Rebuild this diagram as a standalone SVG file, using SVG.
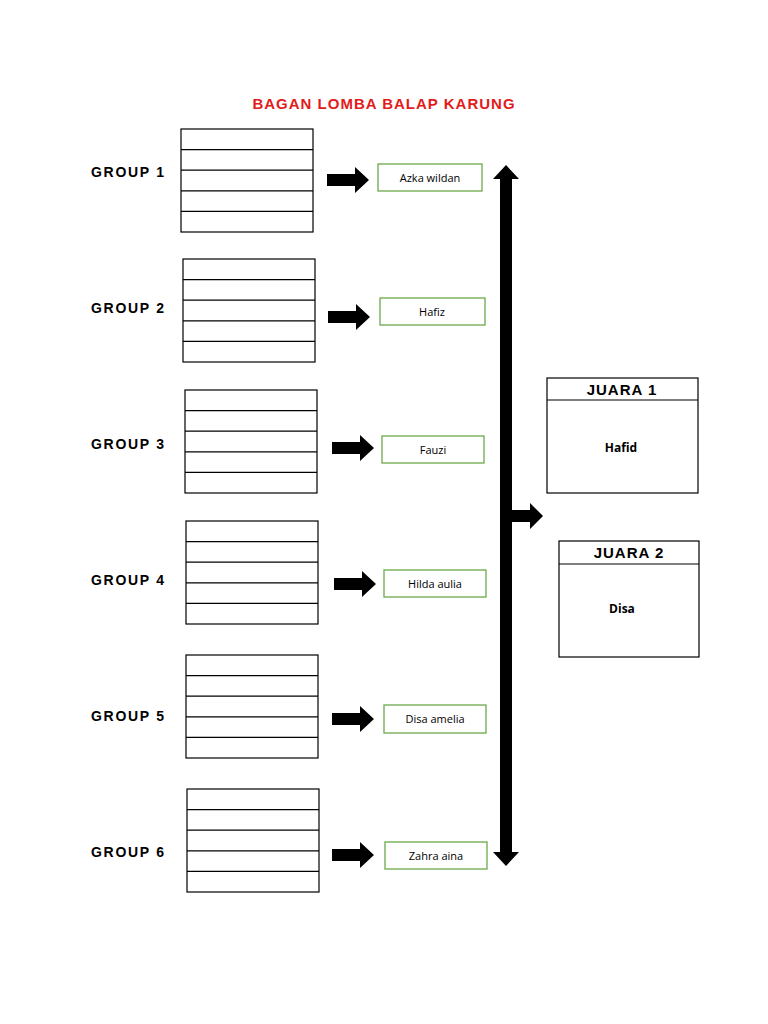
<svg xmlns="http://www.w3.org/2000/svg" width="768" height="1024" viewBox="0 0 768 1024">
<style>
.t{fill:#fff;stroke:#000;stroke-width:1.2}
.l{stroke:#000;stroke-width:1.2}
.g{font-family:"Liberation Sans",Arial,sans-serif;font-weight:bold;font-size:14px;letter-spacing:1.7px}
.n{fill:#fff;stroke:#6aaa4a;stroke-width:1.3}
.nt{font-family:"Open Sans","Liberation Sans",sans-serif;font-size:11px;text-anchor:middle}
.a{fill:#000}
.j{font-family:"Liberation Sans",Arial,sans-serif;font-weight:bold;font-size:15px;text-anchor:middle;letter-spacing:1px}
.jt{font-family:"Open Sans","Liberation Sans",sans-serif;font-weight:bold;font-size:12px;text-anchor:middle}
</style>
<defs>
<g id="tbl"><rect class="t" x="0" y="0" width="132" height="103"/><line class="l" x1="0" y1="20.6" x2="132" y2="20.6"/><line class="l" x1="0" y1="41.2" x2="132" y2="41.2"/><line class="l" x1="0" y1="61.8" x2="132" y2="61.8"/><line class="l" x1="0" y1="82.4" x2="132" y2="82.4"/></g>
<path id="arr" class="a" d="M0,-6 H28 V-13 L42,0 L28,13 V6 H0 Z"/>
</defs>
<text x="384" y="109" text-anchor="middle" font-family="Liberation Sans,Arial,sans-serif" font-weight="bold" font-size="15" fill="#e31b1b" letter-spacing="1">BAGAN LOMBA BALAP KARUNG</text>
<g id="group1"><use href="#tbl" x="181" y="129"/><text class="g" x="91" y="177">GROUP 1</text></g>
<g id="group2"><use href="#tbl" x="183" y="259"/><text class="g" x="91" y="313">GROUP 2</text></g>
<g id="group3"><use href="#tbl" x="185" y="390"/><text class="g" x="91" y="449">GROUP 3</text></g>
<g id="group4"><use href="#tbl" x="186" y="521"/><text class="g" x="91" y="585">GROUP 4</text></g>
<g id="group5"><use href="#tbl" x="186" y="655"/><text class="g" x="91" y="721">GROUP 5</text></g>
<g id="group6"><use href="#tbl" x="187" y="789"/><text class="g" x="91" y="857">GROUP 6</text></g>
<g id="w1"><rect class="n" x="378" y="164" width="104" height="27"/><text class="nt" x="430" y="182">Azka wildan</text></g>
<g id="w2"><rect class="n" x="380" y="298" width="105" height="27"/><text class="nt" x="432" y="316">Hafiz</text></g>
<g id="w3"><rect class="n" x="382" y="436" width="102" height="27"/><text class="nt" x="433" y="454">Fauzi</text></g>
<g id="w4"><rect class="n" x="384" y="570" width="102" height="27"/><text class="nt" x="435" y="588">Hilda aulia</text></g>
<g id="w5"><rect class="n" x="384" y="705" width="102" height="28"/><text class="nt" x="435" y="723">Disa amelia</text></g>
<g id="w6"><rect class="n" x="385" y="842" width="102" height="27"/><text class="nt" x="436" y="860">Zahra aina</text></g>
<g id="juara1"><rect class="t" x="547" y="378" width="151" height="115"/><line class="l" x1="547" y1="400" x2="698" y2="400"/><text class="j" x="622" y="395">JUARA 1</text><text class="jt" x="621" y="452">Hafid</text></g>
<g id="juara2"><rect class="t" x="559" y="541" width="140" height="116"/><line class="l" x1="559" y1="564" x2="699" y2="564"/><text class="j" x="629" y="558">JUARA 2</text><text class="jt" x="622" y="613">Disa</text></g>
<g id="connectors">
<use href="#arr" x="327" y="180"/>
<use href="#arr" x="328" y="317"/>
<use href="#arr" x="332" y="448"/>
<use href="#arr" x="334" y="584"/>
<use href="#arr" x="332" y="719"/>
<use href="#arr" x="332" y="855"/>
<path class="a" d="M506,165 L519,179 H512 V852 H519 L506,866 L493,852 H500 V179 H493 Z"/>
<path class="a" d="M511,510 H530 V503 L543,516 L530,529 V522 H511 Z"/>
</g>
</svg>
